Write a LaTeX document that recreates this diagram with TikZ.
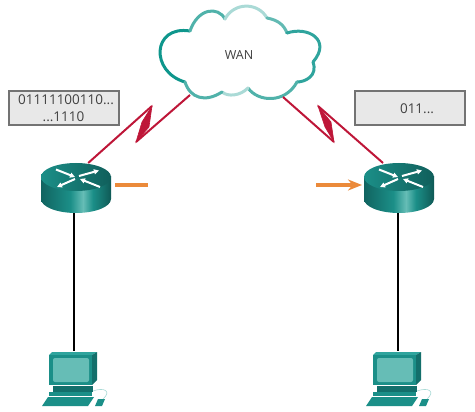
\documentclass[tikz,border=0pt]{standalone}
\usepackage{fontspec}
\setmainfont{Open Sans}
\usepackage[dvipsnames]{xcolor}
\definecolor{bolt}{RGB}{190,22,56}
\definecolor{sig}{RGB}{235,138,58}
\definecolor{boxfill}{RGB}{232,232,232}
\definecolor{boxline}{RGB}{115,115,115}
\definecolor{tealA}{RGB}{14,150,140}
\definecolor{tealB}{RGB}{80,178,170}
\definecolor{tealC}{RGB}{170,218,214}
\definecolor{tealD}{RGB}{27,143,136}
\definecolor{tealE}{RGB}{19,111,107}
\definecolor{tealF}{RGB}{47,164,157}
\definecolor{tealG}{RGB}{102,189,182}
\usepackage{tikz}
\usetikzlibrary{arrows.meta,positioning}
\pgfdeclarehorizontalshading{rtrside}{100bp}{color(0bp)=(tealE); color(25bp)=(tealE!90!black); color(46bp)=(tealD); color(55bp)=(tealG); color(62bp)=(tealD); color(75bp)=(tealE!80!black); color(100bp)=(tealE!80!black)}
\begin{document}
\begin{tikzpicture}[
  x=1pt,y=-1pt,
  msg/.style={rectangle,draw=boxline,fill=boxfill,line width=2pt,minimum width=110pt,minimum height=34pt,
              inner sep=0pt,align=center,font=\fontsize{13.5}{17}\selectfont,text=black!75},
  lbl/.style={font=\fontsize{12.5}{15}\selectfont,text=black!75},
  edge1/.style={line width=3pt,line cap=round},
  rtrbox/.style={rectangle,minimum width=70pt,minimum height=44pt,inner sep=0pt,outer sep=0pt},
  pcbox/.style={rectangle,minimum width=64pt,minimum height=55pt,inner sep=0pt,outer sep=0pt},
  wire/.style={line width=2pt,color=black},
  serial/.style={draw=bolt,line width=2pt},
  lens/.style={fill=bolt,draw=bolt,line width=.6pt},
  sigline/.style={line width=3.2pt,color=sig},
  xarr/.style={white,line width=2pt,-{Triangle[length=5pt,width=5pt]}},
  rtr/.pic={
    \shade[shading=rtrside] (-35,-8) rectangle (35,14);
    \shade[shading=rtrside] (0,14) ellipse [x radius=35pt,y radius=14pt];
    \shade[left color=tealD,right color=tealE!85!black] (0,-8) ellipse [x radius=35pt,y radius=14pt];
    \draw[xarr] (-20,-15.5) -- (-1,-8);
    \draw[xarr] (3,-9) -- (23,-14.5);
    \draw[xarr] (-1,-6) -- (-19,2);
    \draw[xarr] (24,2) -- (4,-6);
  },
  pc/.pic={
    \fill[tealF] (-25,4) -- (-22,1) -- (23,1) -- (18,4) -- cycle;
    \fill[tealE] (18,4) -- (23,1) -- (23,29) -- (18,34) -- cycle;
    \fill[tealD] (-25,4) rectangle (18,34);
    \fill[tealG,rounded corners=2pt] (-21,7) rectangle (15,31);
    \fill[tealE] (-21,35) rectangle (19,41);
    \fill[tealD] (-25,41) rectangle (18,44.5);
    \fill[tealD] (-26,46) -- (20,46) -- (14,55) -- (-32,55) -- cycle;
    \fill[tealD] (24,48) -- (31,48) -- (28,55) -- (21,55) -- cycle;
    \draw[tealC,line width=.6pt] (19,40) .. controls (30,36) and (38,40) .. (29,48);
  }
]
  \useasboundingbox (0,0) rectangle (475,412);
  % nodes
  \node[lbl] (wan) at (239,55) {WAN};
  \node[msg] (b1) at (63.5,108.5) {\hspace*{5pt}01111100110...\\...1110};
  \node[msg] (b2) at (410,108.5) {\hspace*{14pt}011...};
  \node[rtrbox] (r1) at (76,185) {};
  \node[rtrbox] (r2) at (399,185) {};
  \node[pcbox] (pc1) at (74,378.5) {};
  \node[pcbox] (pc2) at (398,378.5) {};
  % cloud
  \coordinate (w1) at (190,95);
  \coordinate (w2) at (283,97);
  \draw[edge1,tealA] (185,82) .. controls (150,72) and (152,25) .. (190,31);
  \draw[edge1,tealB] (190,31) .. controls (198,8) and (218,6) .. (225,19);
  \draw[edge1,tealC] (225,19) .. controls (234,2) and (258,2) .. (267,18);
  \draw[edge1,tealB!80!tealC] (267,18) .. controls (278,20) and (284,25) .. (287,33);
  \draw[edge1,tealF] (287,33) .. controls (308,26) and (332,40) .. (313,62);
  \draw[edge1,tealF] (313,62) .. controls (318,76) and (305,82) .. (297,82);
  \draw[edge1,tealB] (297,82) .. controls (285,104) and (258,102) .. (248,88);
  \draw[edge1,tealC] (248,88) .. controls (240,96) and (228,97) .. (222,92);
  \draw[edge1,tealB] (222,92) .. controls (205,103) and (190,98) .. (185,82);
  % serial links
  \coordinate (t1) at (152,106);
  \coordinate (t2) at (136,142);
  \coordinate (t3) at (318,106);
  \coordinate (t4) at (334,142);
  \draw[serial] (r1.61) -- (t1);
  \draw[serial] (t2) -- (w1);
  \filldraw[lens] (t1) -- (149,127) -- (t2) -- (142,122) -- cycle;
  \draw[serial] (r2.126) -- (t3);
  \draw[serial] (t4) -- (w2);
  \filldraw[lens] (t3) -- (325,127) -- (t4) -- (331,122) -- cycle;
  % wires
  \draw[wire] (r1.south -| pc1.north) -- (pc1.north);
  \draw[wire] (r2.south -| pc2.north) -- (pc2.north);
  \pic at (r1) {rtr};
  \pic at (r2) {rtr};
  \pic at (pc1.north) {pc};
  \pic at (pc2.north) {pc};
  % signal
  \coordinate (o1) at (115,185);
  \coordinate (o2) at (148,185);
  \coordinate (o3) at (316,185);
  \draw[sigline] (o1) -- (o2);
  \draw[sigline,-{Stealth[length=14pt,width=11pt]},shorten >=2pt] (o3) -- (r2.west);
\end{tikzpicture}
\end{document}
